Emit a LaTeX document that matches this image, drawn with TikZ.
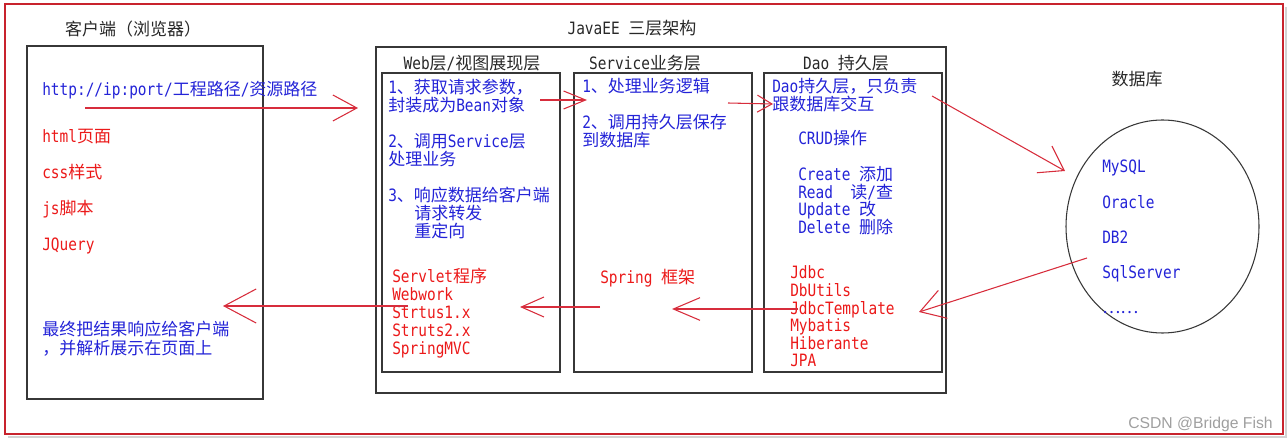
\documentclass[tikz,border=0pt]{standalone}
\usepackage{fontspec}
\usepackage{xcolor}
\usetikzlibrary{arrows.meta}

\newfontfamily\latfont[FakeStretch=0.85]{DejaVu Sans Mono}
\newfontfamily\cjkfont{Noto Sans CJK SC}
\newfontfamily\markfont{Liberation Sans}

% switch to the CJK font for Chinese characters
\XeTeXinterchartokenstate=1
\chardef\cjkclass=1
\newcount\cjkcode
\cjkcode="4E00
\loop
  \XeTeXcharclass\cjkcode=\cjkclass
  \advance\cjkcode by 1
\ifnum\cjkcode<"A000 \repeat
\XeTeXcharclass"3001=\cjkclass
\XeTeXcharclass"FF0C=\cjkclass
\XeTeXcharclass"FF08=\cjkclass
\XeTeXcharclass"FF09=\cjkclass
\XeTeXcharclass"2026=\cjkclass
\XeTeXinterchartoks 0 \cjkclass = {\cjkfont}
\XeTeXinterchartoks 4095 \cjkclass = {\cjkfont}
\XeTeXinterchartoks \cjkclass 0 = {\latfont}

\definecolor{txtblue}{RGB}{35,35,215}
\definecolor{txtred}{RGB}{235,25,25}
\definecolor{linered}{RGB}{215,45,60}
\definecolor{framered}{RGB}{200,35,45}
\definecolor{boxgray}{RGB}{55,55,55}
\definecolor{headgray}{RGB}{40,40,40}

\begin{document}
\begin{tikzpicture}[x=0.75pt, y=-0.75pt,
    plaintxt/.style={anchor=base west, inner sep=0pt, font=\fontsize{12.75}{15}\latfont},
    bluetxt/.style={plaintxt, text=txtblue},
    redtxt/.style={plaintxt, text=txtred},
    headtxt/.style={plaintxt, anchor=base, text=headgray},
    layerbox/.style={draw=boxgray, line width=1.1pt},
    flow/.style 2 args={draw=linered, line width=0.8pt, -{Straight Barb[length=#1, width=#2]}}]

    \useasboundingbox (0,0) rectangle (1288,441);

    % Frame
    \draw[gray!35, line width=1pt] (8,437) -- (1286,437) -- (1286,7);
    \draw[framered, line width=1.2pt] (5,4) rectangle (1283,434);

    % Boxes
    \draw[layerbox] (27,46) rectangle (263,399);
    \draw[layerbox] (376,47) rectangle (946,393);
    \draw[layerbox] (382,73) rectangle (560,372);
    \draw[layerbox] (574,73) rectangle (752,372);
    \draw[layerbox] (764,73) rectangle (942,372);
    \draw[boxgray, line width=0.8pt] (1162.5,226.5) ellipse [x radius=96.5, y radius=106.5];

    % Titles
    \node[headtxt] (clientT) at (133,36) {客户端（浏览器）};
    \node[headtxt] (javaeeT) at (632,35) {JavaEE 三层架构};
    \node[headtxt] (webT) at (472,70) {Web层/视图展现层};
    \node[headtxt] (serviceT) at (645,70) {Service业务层};
    \node[headtxt] (daoT) at (846,70) {Dao 持久层};
    \node[headtxt] (dbT) at (1137,86) {数据库};

    % Client
    \node[bluetxt] (url) at (42,96) {http://ip:port/工程路径/资源路径};
    \foreach \n/\t in {0/{html页面}, 1/{css样式}, 2/{js脚本}, 3/{JQuery}}
        \node[redtxt] (front\n) at (42,{143+36*\n}) {\t};
    \node[bluetxt] (show0) at (42,336) {最终把结果响应给客户端};
    \node[bluetxt] (show1) at (42,354) {，并解析展示在页面上};

    % Web layer
    \foreach \n/\t in {0/{1、获取请求参数，}, 1/{封装成为Bean对象}, 3/{2、调用Service层},
        4/{处理业务}, 6/{3、响应数据给客户端}}
        \node[bluetxt] (web\n) at (388,{94+17.9*\n}) {\t};
    \foreach \n/\t in {7/{请求转发}, 8/{重定向}}
        \node[bluetxt] (web\n) at (414,{94+17.9*\n}) {\t};
    \foreach \n/\t in {0/{Servlet程序}, 1/{Webwork}, 2/{Strtus1.x}, 3/{Struts2.x}, 4/{SpringMVC}}
        \node[redtxt] (webfw\n) at (392,{283+17.9*\n}) {\t};

    % Service layer
    \foreach \n/\t in {0/{1、处理业务逻辑}, 2/{2、调用持久层保存}, 3/{到数据库}}
        \node[bluetxt] (svc\n) at (582,{93+17.9*\n}) {\t};
    \node[redtxt] (spring) at (600,284) {Spring 框架};

    % Dao layer
    \foreach \n/\t in {0/{Dao持久层，只负责}, 1/{跟数据库交互}}
        \node[bluetxt] (dao\n) at (772,{93+17.7*\n}) {\t};
    \foreach \n/\t in {0/{CRUD操作}, 2/{Create 添加}, 3/{Read~~读/查}, 4/{Update 改}, 5/{Delete 删除}}
        \node[bluetxt] (crud\n) at (798,{145+17.7*\n}) {\t};
    \foreach \n/\t in {0/{Jdbc}, 1/{DbUtils}, 2/{JdbcTemplate}, 3/{Mybatis}, 4/{Hiberante}, 5/{JPA}}
        \node[redtxt] (daofw\n) at (790,{279+17.6*\n}) {\t};

    % Database
    \foreach \n/\t in {0/{MySQL}, 1/{Oracle}, 2/{DB2}, 3/{SqlServer}, 4/{……}}
        \node[bluetxt] (db\n) at (1102,{173+35.1*\n}) {\t};

    % Arrow ends
    \coordinate (reqA) at (85,108);    \coordinate (reqB) at (358,108);
    \coordinate (wsA) at (540,100);    \coordinate (wsB) at (587,100);
    \coordinate (sdA) at (728,103);    \coordinate (sdB) at (773,104);
    \coordinate (ddA) at (932,96);     \coordinate (ddB) at (1065,171);
    \coordinate (bdA) at (1087,258);   \coordinate (bdB) at (919,312);
    \coordinate (dsA) at (798,309);    \coordinate (dsB) at (672,309);
    \coordinate (swA) at (600,307);    \coordinate (swB) at (520,307);
    \coordinate (wcA) at (408,306);    \coordinate (wcB) at (223,306);

    % Arrows
    \draw[flow={18pt}{19.5pt}] (reqA) -- (reqB);
    \draw[flow={16.5pt}{13.5pt}] (wsA) -- (wsB);
    \draw[flow={11pt}{12.75pt}] (sdA) -- (sdB);
    \draw[flow={17pt}{23pt}] (ddA) -- (ddB);
    \draw[flow={18pt}{22pt}] (bdA) -- (bdB);
    \draw[flow={20pt}{17pt}] (dsA) -- (dsB);
    \draw[flow={17pt}{15pt}] (swA) -- (swB);
    \draw[flow={24pt}{25.5pt}] (wcA) -- (wcB);

    \node[anchor=base east, inner sep=0pt, font=\fontsize{11.8}{14}\markfont, text=gray!75] (mark) at (1273,428) {CSDN @Bridge Fish};

\end{tikzpicture}
\end{document}
